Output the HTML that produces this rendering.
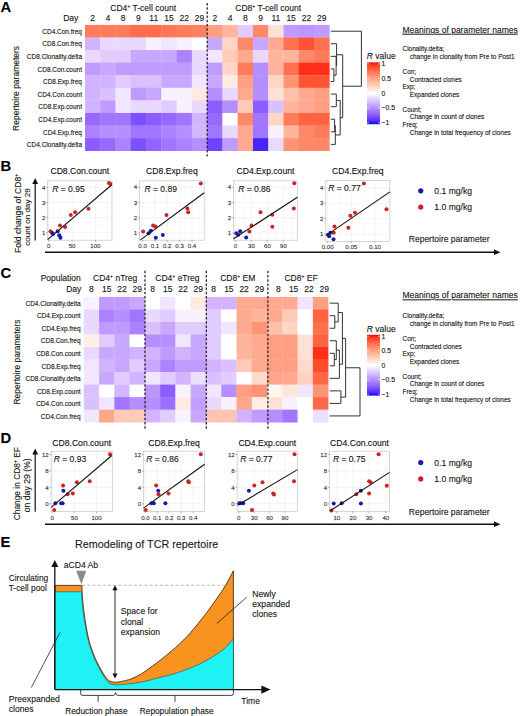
<!DOCTYPE html>
<html><head><meta charset="utf-8"><style>
html,body{margin:0;padding:0;background:#fff;width:520px;height:716px;overflow:hidden}
svg{display:block;font-family:"Liberation Sans",sans-serif}
text{stroke:#000;stroke-opacity:0.45;stroke-width:0.25px}
</style></head><body>
<svg width="520" height="716" viewBox="0 0 520 716" font-family="Liberation Sans, sans-serif">
<rect x="85.00" y="24.90" width="15.57" height="12.88" fill="#ff7c5b"/>
<rect x="100.27" y="24.90" width="15.57" height="12.88" fill="#ff7c5b"/>
<rect x="115.54" y="24.90" width="15.57" height="12.88" fill="#ff7c5b"/>
<rect x="130.81" y="24.90" width="15.57" height="12.88" fill="#ff6d4c"/>
<rect x="146.08" y="24.90" width="15.57" height="12.88" fill="#ff6d4c"/>
<rect x="161.35" y="24.90" width="15.57" height="12.88" fill="#ff7756"/>
<rect x="176.62" y="24.90" width="15.57" height="12.88" fill="#ff7c5b"/>
<rect x="191.89" y="24.90" width="15.57" height="12.88" fill="#ff8160"/>
<rect x="207.16" y="24.90" width="15.57" height="12.88" fill="#ff9f82"/>
<rect x="222.43" y="24.90" width="15.57" height="12.88" fill="#ffb59d"/>
<rect x="237.70" y="24.90" width="15.57" height="12.88" fill="#e1ccff"/>
<rect x="252.97" y="24.90" width="15.57" height="12.88" fill="#ff8868"/>
<rect x="268.24" y="24.90" width="15.57" height="12.88" fill="#ffe0d4"/>
<rect x="283.51" y="24.90" width="15.57" height="12.88" fill="#bf9bff"/>
<rect x="298.78" y="24.90" width="15.57" height="12.88" fill="#bb96ff"/>
<rect x="314.05" y="24.90" width="15.57" height="12.88" fill="#bf9bff"/>
<rect x="85.00" y="37.48" width="15.57" height="12.88" fill="#d1b3ff"/>
<rect x="100.27" y="37.48" width="15.57" height="12.88" fill="#e9d9ff"/>
<rect x="115.54" y="37.48" width="15.57" height="12.88" fill="#e9d9ff"/>
<rect x="130.81" y="37.48" width="15.57" height="12.88" fill="#e9d9ff"/>
<rect x="146.08" y="37.48" width="15.57" height="12.88" fill="#f8f2ff"/>
<rect x="161.35" y="37.48" width="15.57" height="12.88" fill="#f0e6ff"/>
<rect x="176.62" y="37.48" width="15.57" height="12.88" fill="#f8f2ff"/>
<rect x="191.89" y="37.48" width="15.57" height="12.88" fill="#ffffff"/>
<rect x="207.16" y="37.48" width="15.57" height="12.88" fill="#c8a7ff"/>
<rect x="222.43" y="37.48" width="15.57" height="12.88" fill="#ffd5c6"/>
<rect x="237.70" y="37.48" width="15.57" height="12.88" fill="#ff8868"/>
<rect x="252.97" y="37.48" width="15.57" height="12.88" fill="#c8a7ff"/>
<rect x="268.24" y="37.48" width="15.57" height="12.88" fill="#ffaa90"/>
<rect x="283.51" y="37.48" width="15.57" height="12.88" fill="#ff704e"/>
<rect x="298.78" y="37.48" width="15.57" height="12.88" fill="#ff5434"/>
<rect x="314.05" y="37.48" width="15.57" height="12.88" fill="#ff704e"/>
<rect x="85.00" y="50.06" width="15.57" height="12.88" fill="#e9d9ff"/>
<rect x="100.27" y="50.06" width="15.57" height="12.88" fill="#e1ccff"/>
<rect x="115.54" y="50.06" width="15.57" height="12.88" fill="#e1ccff"/>
<rect x="130.81" y="50.06" width="15.57" height="12.88" fill="#c8a7ff"/>
<rect x="146.08" y="50.06" width="15.57" height="12.88" fill="#c8a7ff"/>
<rect x="161.35" y="50.06" width="15.57" height="12.88" fill="#c8a7ff"/>
<rect x="176.62" y="50.06" width="15.57" height="12.88" fill="#ab82ff"/>
<rect x="191.89" y="50.06" width="15.57" height="12.88" fill="#e9d9ff"/>
<rect x="207.16" y="50.06" width="15.57" height="12.88" fill="#f0e6ff"/>
<rect x="222.43" y="50.06" width="15.57" height="12.88" fill="#ffcab8"/>
<rect x="237.70" y="50.06" width="15.57" height="12.88" fill="#ffaa90"/>
<rect x="252.97" y="50.06" width="15.57" height="12.88" fill="#e9d9ff"/>
<rect x="268.24" y="50.06" width="15.57" height="12.88" fill="#ffb59d"/>
<rect x="283.51" y="50.06" width="15.57" height="12.88" fill="#ffb59d"/>
<rect x="298.78" y="50.06" width="15.57" height="12.88" fill="#ff8868"/>
<rect x="314.05" y="50.06" width="15.57" height="12.88" fill="#ff7c5b"/>
<rect x="85.00" y="62.64" width="15.57" height="12.88" fill="#bf9bff"/>
<rect x="100.27" y="62.64" width="15.57" height="12.88" fill="#c8a7ff"/>
<rect x="115.54" y="62.64" width="15.57" height="12.88" fill="#bf9bff"/>
<rect x="130.81" y="62.64" width="15.57" height="12.88" fill="#bf9bff"/>
<rect x="146.08" y="62.64" width="15.57" height="12.88" fill="#bf9bff"/>
<rect x="161.35" y="62.64" width="15.57" height="12.88" fill="#bf9bff"/>
<rect x="176.62" y="62.64" width="15.57" height="12.88" fill="#bf9bff"/>
<rect x="191.89" y="62.64" width="15.57" height="12.88" fill="#e9d9ff"/>
<rect x="207.16" y="62.64" width="15.57" height="12.88" fill="#bf9bff"/>
<rect x="222.43" y="62.64" width="15.57" height="12.88" fill="#ffd5c6"/>
<rect x="237.70" y="62.64" width="15.57" height="12.88" fill="#ff7c5b"/>
<rect x="252.97" y="62.64" width="15.57" height="12.88" fill="#b58eff"/>
<rect x="268.24" y="62.64" width="15.57" height="12.88" fill="#ffb59d"/>
<rect x="283.51" y="62.64" width="15.57" height="12.88" fill="#ff704e"/>
<rect x="298.78" y="62.64" width="15.57" height="12.88" fill="#ff3018"/>
<rect x="314.05" y="62.64" width="15.57" height="12.88" fill="#ff3018"/>
<rect x="85.00" y="75.22" width="15.57" height="12.88" fill="#d1b3ff"/>
<rect x="100.27" y="75.22" width="15.57" height="12.88" fill="#d1b3ff"/>
<rect x="115.54" y="75.22" width="15.57" height="12.88" fill="#e1ccff"/>
<rect x="130.81" y="75.22" width="15.57" height="12.88" fill="#d9c0ff"/>
<rect x="146.08" y="75.22" width="15.57" height="12.88" fill="#d9c0ff"/>
<rect x="161.35" y="75.22" width="15.57" height="12.88" fill="#c8a7ff"/>
<rect x="176.62" y="75.22" width="15.57" height="12.88" fill="#c8a7ff"/>
<rect x="191.89" y="75.22" width="15.57" height="12.88" fill="#f0e6ff"/>
<rect x="207.16" y="75.22" width="15.57" height="12.88" fill="#c8a7ff"/>
<rect x="222.43" y="75.22" width="15.57" height="12.88" fill="#ffeae2"/>
<rect x="237.70" y="75.22" width="15.57" height="12.88" fill="#ff9f82"/>
<rect x="252.97" y="75.22" width="15.57" height="12.88" fill="#b58eff"/>
<rect x="268.24" y="75.22" width="15.57" height="12.88" fill="#ffd5c6"/>
<rect x="283.51" y="75.22" width="15.57" height="12.88" fill="#ff9475"/>
<rect x="298.78" y="75.22" width="15.57" height="12.88" fill="#ff5434"/>
<rect x="314.05" y="75.22" width="15.57" height="12.88" fill="#ff5434"/>
<rect x="85.00" y="87.80" width="15.57" height="12.88" fill="#d1b3ff"/>
<rect x="100.27" y="87.80" width="15.57" height="12.88" fill="#d9c0ff"/>
<rect x="115.54" y="87.80" width="15.57" height="12.88" fill="#f0e6ff"/>
<rect x="130.81" y="87.80" width="15.57" height="12.88" fill="#bf9bff"/>
<rect x="146.08" y="87.80" width="15.57" height="12.88" fill="#c8a7ff"/>
<rect x="161.35" y="87.80" width="15.57" height="12.88" fill="#f8f2ff"/>
<rect x="176.62" y="87.80" width="15.57" height="12.88" fill="#f8f2ff"/>
<rect x="191.89" y="87.80" width="15.57" height="12.88" fill="#ffeae2"/>
<rect x="207.16" y="87.80" width="15.57" height="12.88" fill="#b58eff"/>
<rect x="222.43" y="87.80" width="15.57" height="12.88" fill="#e9d9ff"/>
<rect x="237.70" y="87.80" width="15.57" height="12.88" fill="#ffaa90"/>
<rect x="252.97" y="87.80" width="15.57" height="12.88" fill="#b58eff"/>
<rect x="268.24" y="87.80" width="15.57" height="12.88" fill="#ffe0d4"/>
<rect x="283.51" y="87.80" width="15.57" height="12.88" fill="#ffc0ab"/>
<rect x="298.78" y="87.80" width="15.57" height="12.88" fill="#ffaa90"/>
<rect x="314.05" y="87.80" width="15.57" height="12.88" fill="#ff9f82"/>
<rect x="85.00" y="100.38" width="15.57" height="12.88" fill="#d1b3ff"/>
<rect x="100.27" y="100.38" width="15.57" height="12.88" fill="#bf9bff"/>
<rect x="115.54" y="100.38" width="15.57" height="12.88" fill="#f0e6ff"/>
<rect x="130.81" y="100.38" width="15.57" height="12.88" fill="#e9d9ff"/>
<rect x="146.08" y="100.38" width="15.57" height="12.88" fill="#e9d9ff"/>
<rect x="161.35" y="100.38" width="15.57" height="12.88" fill="#e1ccff"/>
<rect x="176.62" y="100.38" width="15.57" height="12.88" fill="#f8f2ff"/>
<rect x="191.89" y="100.38" width="15.57" height="12.88" fill="#e9d9ff"/>
<rect x="207.16" y="100.38" width="15.57" height="12.88" fill="#8a5dff"/>
<rect x="222.43" y="100.38" width="15.57" height="12.88" fill="#b58eff"/>
<rect x="237.70" y="100.38" width="15.57" height="12.88" fill="#ffcab8"/>
<rect x="252.97" y="100.38" width="15.57" height="12.88" fill="#8a5dff"/>
<rect x="268.24" y="100.38" width="15.57" height="12.88" fill="#d9c0ff"/>
<rect x="283.51" y="100.38" width="15.57" height="12.88" fill="#ffb59d"/>
<rect x="298.78" y="100.38" width="15.57" height="12.88" fill="#ffaa90"/>
<rect x="314.05" y="100.38" width="15.57" height="12.88" fill="#ff9f82"/>
<rect x="85.00" y="112.96" width="15.57" height="12.88" fill="#9669ff"/>
<rect x="100.27" y="112.96" width="15.57" height="12.88" fill="#a176ff"/>
<rect x="115.54" y="112.96" width="15.57" height="12.88" fill="#a176ff"/>
<rect x="130.81" y="112.96" width="15.57" height="12.88" fill="#7d50ff"/>
<rect x="146.08" y="112.96" width="15.57" height="12.88" fill="#8a5dff"/>
<rect x="161.35" y="112.96" width="15.57" height="12.88" fill="#9669ff"/>
<rect x="176.62" y="112.96" width="15.57" height="12.88" fill="#a176ff"/>
<rect x="191.89" y="112.96" width="15.57" height="12.88" fill="#d1b3ff"/>
<rect x="207.16" y="112.96" width="15.57" height="12.88" fill="#9669ff"/>
<rect x="222.43" y="112.96" width="15.57" height="12.88" fill="#ffffff"/>
<rect x="237.70" y="112.96" width="15.57" height="12.88" fill="#ff8868"/>
<rect x="252.97" y="112.96" width="15.57" height="12.88" fill="#a176ff"/>
<rect x="268.24" y="112.96" width="15.57" height="12.88" fill="#ffd5c6"/>
<rect x="283.51" y="112.96" width="15.57" height="12.88" fill="#ff7c5b"/>
<rect x="298.78" y="112.96" width="15.57" height="12.88" fill="#ff6341"/>
<rect x="314.05" y="112.96" width="15.57" height="12.88" fill="#ff6341"/>
<rect x="85.00" y="125.54" width="15.57" height="12.88" fill="#ab82ff"/>
<rect x="100.27" y="125.54" width="15.57" height="12.88" fill="#b58eff"/>
<rect x="115.54" y="125.54" width="15.57" height="12.88" fill="#b58eff"/>
<rect x="130.81" y="125.54" width="15.57" height="12.88" fill="#a176ff"/>
<rect x="146.08" y="125.54" width="15.57" height="12.88" fill="#a176ff"/>
<rect x="161.35" y="125.54" width="15.57" height="12.88" fill="#ab82ff"/>
<rect x="176.62" y="125.54" width="15.57" height="12.88" fill="#b58eff"/>
<rect x="191.89" y="125.54" width="15.57" height="12.88" fill="#d4b8ff"/>
<rect x="207.16" y="125.54" width="15.57" height="12.88" fill="#a176ff"/>
<rect x="222.43" y="125.54" width="15.57" height="12.88" fill="#e9d9ff"/>
<rect x="237.70" y="125.54" width="15.57" height="12.88" fill="#ffaa90"/>
<rect x="252.97" y="125.54" width="15.57" height="12.88" fill="#a176ff"/>
<rect x="268.24" y="125.54" width="15.57" height="12.88" fill="#f8f2ff"/>
<rect x="283.51" y="125.54" width="15.57" height="12.88" fill="#ffb59d"/>
<rect x="298.78" y="125.54" width="15.57" height="12.88" fill="#ff8868"/>
<rect x="314.05" y="125.54" width="15.57" height="12.88" fill="#ff7c5b"/>
<rect x="85.00" y="138.12" width="15.57" height="12.88" fill="#8a5dff"/>
<rect x="100.27" y="138.12" width="15.57" height="12.88" fill="#9669ff"/>
<rect x="115.54" y="138.12" width="15.57" height="12.88" fill="#ab82ff"/>
<rect x="130.81" y="138.12" width="15.57" height="12.88" fill="#7d50ff"/>
<rect x="146.08" y="138.12" width="15.57" height="12.88" fill="#9164ff"/>
<rect x="161.35" y="138.12" width="15.57" height="12.88" fill="#a176ff"/>
<rect x="176.62" y="138.12" width="15.57" height="12.88" fill="#ab82ff"/>
<rect x="191.89" y="138.12" width="15.57" height="12.88" fill="#b58eff"/>
<rect x="207.16" y="138.12" width="15.57" height="12.88" fill="#6e43ff"/>
<rect x="222.43" y="138.12" width="15.57" height="12.88" fill="#bf9bff"/>
<rect x="237.70" y="138.12" width="15.57" height="12.88" fill="#ffaa90"/>
<rect x="252.97" y="138.12" width="15.57" height="12.88" fill="#4825ff"/>
<rect x="268.24" y="138.12" width="15.57" height="12.88" fill="#e9d9ff"/>
<rect x="283.51" y="138.12" width="15.57" height="12.88" fill="#ff9475"/>
<rect x="298.78" y="138.12" width="15.57" height="12.88" fill="#ff8868"/>
<rect x="314.05" y="138.12" width="15.57" height="12.88" fill="#ff8868"/>
<text x="82.0" y="33.89" font-size="6.5" fill="#222" text-anchor="end">CD4.Con.freq</text>
<text x="82.0" y="46.47" font-size="6.5" fill="#222" text-anchor="end">CD8.Con.freq</text>
<text x="82.0" y="59.05" font-size="6.5" fill="#222" text-anchor="end">CD8.Clonality.delta</text>
<text x="82.0" y="71.63" font-size="6.5" fill="#222" text-anchor="end">CD8.Con.count</text>
<text x="82.0" y="84.21" font-size="6.5" fill="#222" text-anchor="end">CD8.Exp.freq</text>
<text x="82.0" y="96.79" font-size="6.5" fill="#222" text-anchor="end">CD4.Con.count</text>
<text x="82.0" y="109.37" font-size="6.5" fill="#222" text-anchor="end">CD8.Exp.count</text>
<text x="82.0" y="121.95" font-size="6.5" fill="#222" text-anchor="end">CD4.Exp.count</text>
<text x="82.0" y="134.53" font-size="6.5" fill="#222" text-anchor="end">CD4.Exp.freq</text>
<text x="82.0" y="147.11" font-size="6.5" fill="#222" text-anchor="end">CD4.Clonality.delta</text>
<rect x="83.80" y="296.90" width="15.57" height="12.83" fill="#f8f2ff"/>
<rect x="99.07" y="296.90" width="15.57" height="12.83" fill="#bf9bff"/>
<rect x="114.34" y="296.90" width="15.57" height="12.83" fill="#bf9bff"/>
<rect x="129.61" y="296.90" width="15.57" height="12.83" fill="#c8a7ff"/>
<rect x="144.88" y="296.90" width="15.57" height="12.83" fill="#ffffff"/>
<rect x="160.15" y="296.90" width="15.57" height="12.83" fill="#f0e6ff"/>
<rect x="175.42" y="296.90" width="15.57" height="12.83" fill="#ffffff"/>
<rect x="190.69" y="296.90" width="15.57" height="12.83" fill="#ffeae2"/>
<rect x="205.96" y="296.90" width="15.57" height="12.83" fill="#d1b3ff"/>
<rect x="221.23" y="296.90" width="15.57" height="12.83" fill="#d1b3ff"/>
<rect x="236.50" y="296.90" width="15.57" height="12.83" fill="#ffaa90"/>
<rect x="251.77" y="296.90" width="15.57" height="12.83" fill="#ffaa90"/>
<rect x="267.04" y="296.90" width="15.57" height="12.83" fill="#ffaa90"/>
<rect x="282.31" y="296.90" width="15.57" height="12.83" fill="#ffaa90"/>
<rect x="297.58" y="296.90" width="15.57" height="12.83" fill="#f0e6ff"/>
<rect x="312.85" y="296.90" width="15.57" height="12.83" fill="#ff9f82"/>
<rect x="83.80" y="309.43" width="15.57" height="12.83" fill="#e9d9ff"/>
<rect x="99.07" y="309.43" width="15.57" height="12.83" fill="#ab82ff"/>
<rect x="114.34" y="309.43" width="15.57" height="12.83" fill="#b58eff"/>
<rect x="129.61" y="309.43" width="15.57" height="12.83" fill="#a176ff"/>
<rect x="144.88" y="309.43" width="15.57" height="12.83" fill="#e9d9ff"/>
<rect x="160.15" y="309.43" width="15.57" height="12.83" fill="#e1ccff"/>
<rect x="175.42" y="309.43" width="15.57" height="12.83" fill="#f8f2ff"/>
<rect x="190.69" y="309.43" width="15.57" height="12.83" fill="#f8f2ff"/>
<rect x="205.96" y="309.43" width="15.57" height="12.83" fill="#e1ccff"/>
<rect x="221.23" y="309.43" width="15.57" height="12.83" fill="#ffffff"/>
<rect x="236.50" y="309.43" width="15.57" height="12.83" fill="#ffaa90"/>
<rect x="251.77" y="309.43" width="15.57" height="12.83" fill="#ffb59d"/>
<rect x="267.04" y="309.43" width="15.57" height="12.83" fill="#ffaa90"/>
<rect x="282.31" y="309.43" width="15.57" height="12.83" fill="#ffcab8"/>
<rect x="297.58" y="309.43" width="15.57" height="12.83" fill="#ffffff"/>
<rect x="312.85" y="309.43" width="15.57" height="12.83" fill="#ff6341"/>
<rect x="83.80" y="321.96" width="15.57" height="12.83" fill="#e9d9ff"/>
<rect x="99.07" y="321.96" width="15.57" height="12.83" fill="#bf9bff"/>
<rect x="114.34" y="321.96" width="15.57" height="12.83" fill="#bf9bff"/>
<rect x="129.61" y="321.96" width="15.57" height="12.83" fill="#ab82ff"/>
<rect x="144.88" y="321.96" width="15.57" height="12.83" fill="#d9c0ff"/>
<rect x="160.15" y="321.96" width="15.57" height="12.83" fill="#c8a7ff"/>
<rect x="175.42" y="321.96" width="15.57" height="12.83" fill="#e1ccff"/>
<rect x="190.69" y="321.96" width="15.57" height="12.83" fill="#e1ccff"/>
<rect x="205.96" y="321.96" width="15.57" height="12.83" fill="#e1ccff"/>
<rect x="221.23" y="321.96" width="15.57" height="12.83" fill="#f0e6ff"/>
<rect x="236.50" y="321.96" width="15.57" height="12.83" fill="#ffaa90"/>
<rect x="251.77" y="321.96" width="15.57" height="12.83" fill="#ff9475"/>
<rect x="267.04" y="321.96" width="15.57" height="12.83" fill="#ffc0ab"/>
<rect x="282.31" y="321.96" width="15.57" height="12.83" fill="#ffd5c6"/>
<rect x="297.58" y="321.96" width="15.57" height="12.83" fill="#ffffff"/>
<rect x="312.85" y="321.96" width="15.57" height="12.83" fill="#ff704e"/>
<rect x="83.80" y="334.49" width="15.57" height="12.83" fill="#ffeee8"/>
<rect x="99.07" y="334.49" width="15.57" height="12.83" fill="#e1ccff"/>
<rect x="114.34" y="334.49" width="15.57" height="12.83" fill="#c8a7ff"/>
<rect x="129.61" y="334.49" width="15.57" height="12.83" fill="#ffffff"/>
<rect x="144.88" y="334.49" width="15.57" height="12.83" fill="#b58eff"/>
<rect x="160.15" y="334.49" width="15.57" height="12.83" fill="#b58eff"/>
<rect x="175.42" y="334.49" width="15.57" height="12.83" fill="#f0e6ff"/>
<rect x="190.69" y="334.49" width="15.57" height="12.83" fill="#c8a7ff"/>
<rect x="205.96" y="334.49" width="15.57" height="12.83" fill="#e1ccff"/>
<rect x="221.23" y="334.49" width="15.57" height="12.83" fill="#ffffff"/>
<rect x="236.50" y="334.49" width="15.57" height="12.83" fill="#ffb59d"/>
<rect x="251.77" y="334.49" width="15.57" height="12.83" fill="#ffaa90"/>
<rect x="267.04" y="334.49" width="15.57" height="12.83" fill="#ff9f82"/>
<rect x="282.31" y="334.49" width="15.57" height="12.83" fill="#ff9f82"/>
<rect x="297.58" y="334.49" width="15.57" height="12.83" fill="#ffe0d4"/>
<rect x="312.85" y="334.49" width="15.57" height="12.83" fill="#ff6341"/>
<rect x="83.80" y="347.02" width="15.57" height="12.83" fill="#e9d9ff"/>
<rect x="99.07" y="347.02" width="15.57" height="12.83" fill="#c8a7ff"/>
<rect x="114.34" y="347.02" width="15.57" height="12.83" fill="#c8a7ff"/>
<rect x="129.61" y="347.02" width="15.57" height="12.83" fill="#d1b3ff"/>
<rect x="144.88" y="347.02" width="15.57" height="12.83" fill="#d1b3ff"/>
<rect x="160.15" y="347.02" width="15.57" height="12.83" fill="#bf9bff"/>
<rect x="175.42" y="347.02" width="15.57" height="12.83" fill="#d1b3ff"/>
<rect x="190.69" y="347.02" width="15.57" height="12.83" fill="#c8a7ff"/>
<rect x="205.96" y="347.02" width="15.57" height="12.83" fill="#e1ccff"/>
<rect x="221.23" y="347.02" width="15.57" height="12.83" fill="#ffffff"/>
<rect x="236.50" y="347.02" width="15.57" height="12.83" fill="#ffb59d"/>
<rect x="251.77" y="347.02" width="15.57" height="12.83" fill="#ffaa90"/>
<rect x="267.04" y="347.02" width="15.57" height="12.83" fill="#ff9f82"/>
<rect x="282.31" y="347.02" width="15.57" height="12.83" fill="#ff9f82"/>
<rect x="297.58" y="347.02" width="15.57" height="12.83" fill="#ffe0d4"/>
<rect x="312.85" y="347.02" width="15.57" height="12.83" fill="#ff3018"/>
<rect x="83.80" y="359.55" width="15.57" height="12.83" fill="#f0e6ff"/>
<rect x="99.07" y="359.55" width="15.57" height="12.83" fill="#d1b3ff"/>
<rect x="114.34" y="359.55" width="15.57" height="12.83" fill="#c8a7ff"/>
<rect x="129.61" y="359.55" width="15.57" height="12.83" fill="#e1ccff"/>
<rect x="144.88" y="359.55" width="15.57" height="12.83" fill="#c8a7ff"/>
<rect x="160.15" y="359.55" width="15.57" height="12.83" fill="#ab82ff"/>
<rect x="175.42" y="359.55" width="15.57" height="12.83" fill="#bf9bff"/>
<rect x="190.69" y="359.55" width="15.57" height="12.83" fill="#bf9bff"/>
<rect x="205.96" y="359.55" width="15.57" height="12.83" fill="#d1b3ff"/>
<rect x="221.23" y="359.55" width="15.57" height="12.83" fill="#d9c0ff"/>
<rect x="236.50" y="359.55" width="15.57" height="12.83" fill="#ffcab8"/>
<rect x="251.77" y="359.55" width="15.57" height="12.83" fill="#ffaa90"/>
<rect x="267.04" y="359.55" width="15.57" height="12.83" fill="#ff9f82"/>
<rect x="282.31" y="359.55" width="15.57" height="12.83" fill="#ff9f82"/>
<rect x="297.58" y="359.55" width="15.57" height="12.83" fill="#ffd9cc"/>
<rect x="312.85" y="359.55" width="15.57" height="12.83" fill="#ff4b2c"/>
<rect x="83.80" y="372.08" width="15.57" height="12.83" fill="#f0e6ff"/>
<rect x="99.07" y="372.08" width="15.57" height="12.83" fill="#c8a7ff"/>
<rect x="114.34" y="372.08" width="15.57" height="12.83" fill="#e1ccff"/>
<rect x="129.61" y="372.08" width="15.57" height="12.83" fill="#d1b3ff"/>
<rect x="144.88" y="372.08" width="15.57" height="12.83" fill="#f0e6ff"/>
<rect x="160.15" y="372.08" width="15.57" height="12.83" fill="#e1ccff"/>
<rect x="175.42" y="372.08" width="15.57" height="12.83" fill="#d1b3ff"/>
<rect x="190.69" y="372.08" width="15.57" height="12.83" fill="#ede0ff"/>
<rect x="205.96" y="372.08" width="15.57" height="12.83" fill="#d9c0ff"/>
<rect x="221.23" y="372.08" width="15.57" height="12.83" fill="#e1ccff"/>
<rect x="236.50" y="372.08" width="15.57" height="12.83" fill="#ffffff"/>
<rect x="251.77" y="372.08" width="15.57" height="12.83" fill="#ffd9cc"/>
<rect x="267.04" y="372.08" width="15.57" height="12.83" fill="#ffa68a"/>
<rect x="282.31" y="372.08" width="15.57" height="12.83" fill="#ffaa90"/>
<rect x="297.58" y="372.08" width="15.57" height="12.83" fill="#ffd1c1"/>
<rect x="312.85" y="372.08" width="15.57" height="12.83" fill="#ff6847"/>
<rect x="83.80" y="384.61" width="15.57" height="12.83" fill="#d9c0ff"/>
<rect x="99.07" y="384.61" width="15.57" height="12.83" fill="#ffffff"/>
<rect x="114.34" y="384.61" width="15.57" height="12.83" fill="#d4b8ff"/>
<rect x="129.61" y="384.61" width="15.57" height="12.83" fill="#ffffff"/>
<rect x="144.88" y="384.61" width="15.57" height="12.83" fill="#bb96ff"/>
<rect x="160.15" y="384.61" width="15.57" height="12.83" fill="#8a5dff"/>
<rect x="175.42" y="384.61" width="15.57" height="12.83" fill="#f8f2ff"/>
<rect x="190.69" y="384.61" width="15.57" height="12.83" fill="#c8a7ff"/>
<rect x="205.96" y="384.61" width="15.57" height="12.83" fill="#f0e6ff"/>
<rect x="221.23" y="384.61" width="15.57" height="12.83" fill="#b58eff"/>
<rect x="236.50" y="384.61" width="15.57" height="12.83" fill="#ff9f82"/>
<rect x="251.77" y="384.61" width="15.57" height="12.83" fill="#ff9475"/>
<rect x="267.04" y="384.61" width="15.57" height="12.83" fill="#fff5f1"/>
<rect x="282.31" y="384.61" width="15.57" height="12.83" fill="#ffe6dd"/>
<rect x="297.58" y="384.61" width="15.57" height="12.83" fill="#f0e6ff"/>
<rect x="312.85" y="384.61" width="15.57" height="12.83" fill="#ff9475"/>
<rect x="83.80" y="397.14" width="15.57" height="12.83" fill="#d9c0ff"/>
<rect x="99.07" y="397.14" width="15.57" height="12.83" fill="#f0e6ff"/>
<rect x="114.34" y="397.14" width="15.57" height="12.83" fill="#a176ff"/>
<rect x="129.61" y="397.14" width="15.57" height="12.83" fill="#b58eff"/>
<rect x="144.88" y="397.14" width="15.57" height="12.83" fill="#b58eff"/>
<rect x="160.15" y="397.14" width="15.57" height="12.83" fill="#9a6eff"/>
<rect x="175.42" y="397.14" width="15.57" height="12.83" fill="#ffeae2"/>
<rect x="190.69" y="397.14" width="15.57" height="12.83" fill="#c3a0ff"/>
<rect x="205.96" y="397.14" width="15.57" height="12.83" fill="#e9d9ff"/>
<rect x="221.23" y="397.14" width="15.57" height="12.83" fill="#f8f2ff"/>
<rect x="236.50" y="397.14" width="15.57" height="12.83" fill="#ffa68a"/>
<rect x="251.77" y="397.14" width="15.57" height="12.83" fill="#ffeee8"/>
<rect x="267.04" y="397.14" width="15.57" height="12.83" fill="#ffe0d4"/>
<rect x="282.31" y="397.14" width="15.57" height="12.83" fill="#f8f2ff"/>
<rect x="297.58" y="397.14" width="15.57" height="12.83" fill="#ffffff"/>
<rect x="312.85" y="397.14" width="15.57" height="12.83" fill="#ff6847"/>
<rect x="83.80" y="409.67" width="15.57" height="12.83" fill="#f0e6ff"/>
<rect x="99.07" y="409.67" width="15.57" height="12.83" fill="#ffa68a"/>
<rect x="114.34" y="409.67" width="15.57" height="12.83" fill="#ffcab8"/>
<rect x="129.61" y="409.67" width="15.57" height="12.83" fill="#ffcab8"/>
<rect x="144.88" y="409.67" width="15.57" height="12.83" fill="#d1b3ff"/>
<rect x="160.15" y="409.67" width="15.57" height="12.83" fill="#e1ccff"/>
<rect x="175.42" y="409.67" width="15.57" height="12.83" fill="#f8f2ff"/>
<rect x="190.69" y="409.67" width="15.57" height="12.83" fill="#c8a7ff"/>
<rect x="205.96" y="409.67" width="15.57" height="12.83" fill="#ffc4b0"/>
<rect x="221.23" y="409.67" width="15.57" height="12.83" fill="#ffc4b0"/>
<rect x="236.50" y="409.67" width="15.57" height="12.83" fill="#d1b3ff"/>
<rect x="251.77" y="409.67" width="15.57" height="12.83" fill="#bf9bff"/>
<rect x="267.04" y="409.67" width="15.57" height="12.83" fill="#b58eff"/>
<rect x="282.31" y="409.67" width="15.57" height="12.83" fill="#a176ff"/>
<rect x="297.58" y="409.67" width="15.57" height="12.83" fill="#ffffff"/>
<rect x="312.85" y="409.67" width="15.57" height="12.83" fill="#ede0ff"/>
<text x="80.6" y="305.86" font-size="6.5" fill="#222" text-anchor="end">CD4.Clonality.delta</text>
<text x="80.6" y="318.39" font-size="6.5" fill="#222" text-anchor="end">CD4.Exp.count</text>
<text x="80.6" y="330.92" font-size="6.5" fill="#222" text-anchor="end">CD4.Exp.freq</text>
<text x="80.6" y="343.45" font-size="6.5" fill="#222" text-anchor="end">CD8.Con.freq</text>
<text x="80.6" y="355.98" font-size="6.5" fill="#222" text-anchor="end">CD8.Con.count</text>
<text x="80.6" y="368.51" font-size="6.5" fill="#222" text-anchor="end">CD8.Exp.freq</text>
<text x="80.6" y="381.04" font-size="6.5" fill="#222" text-anchor="end">CD8.Clonality.delta</text>
<text x="80.6" y="393.57" font-size="6.5" fill="#222" text-anchor="end">CD8.Exp.count</text>
<text x="80.6" y="406.1" font-size="6.5" fill="#222" text-anchor="end">CD4.Con.count</text>
<text x="80.6" y="418.63" font-size="6.5" fill="#222" text-anchor="end">CD4.Con.freq</text>
<text x="143.2" y="10.9" font-size="8.5" fill="#1a1a1a" text-anchor="middle">CD4<tspan font-size="0.6em" dy="-0.5em">+</tspan><tspan dy="0.3em"> </tspan>T-cell count</text>
<text x="268.2" y="10.9" font-size="8.5" fill="#1a1a1a" text-anchor="middle">CD8<tspan font-size="0.6em" dy="-0.5em">+</tspan><tspan dy="0.3em"> </tspan>T-cell count</text>
<text x="78.3" y="21.4" font-size="8.5" fill="#1a1a1a" text-anchor="end">Day</text>
<text x="92.64" y="21.4" font-size="8.5" fill="#1a1a1a" text-anchor="middle">2</text>
<text x="107.91" y="21.4" font-size="8.5" fill="#1a1a1a" text-anchor="middle">4</text>
<text x="123.17" y="21.4" font-size="8.5" fill="#1a1a1a" text-anchor="middle">8</text>
<text x="138.44" y="21.4" font-size="8.5" fill="#1a1a1a" text-anchor="middle">9</text>
<text x="153.72" y="21.4" font-size="8.5" fill="#1a1a1a" text-anchor="middle">11</text>
<text x="168.99" y="21.4" font-size="8.5" fill="#1a1a1a" text-anchor="middle">15</text>
<text x="184.25" y="21.4" font-size="8.5" fill="#1a1a1a" text-anchor="middle">22</text>
<text x="199.52" y="21.4" font-size="8.5" fill="#1a1a1a" text-anchor="middle">29</text>
<text x="214.79" y="21.4" font-size="8.5" fill="#1a1a1a" text-anchor="middle">2</text>
<text x="230.06" y="21.4" font-size="8.5" fill="#1a1a1a" text-anchor="middle">4</text>
<text x="245.34" y="21.4" font-size="8.5" fill="#1a1a1a" text-anchor="middle">8</text>
<text x="260.61" y="21.4" font-size="8.5" fill="#1a1a1a" text-anchor="middle">9</text>
<text x="275.88" y="21.4" font-size="8.5" fill="#1a1a1a" text-anchor="middle">11</text>
<text x="291.14" y="21.4" font-size="8.5" fill="#1a1a1a" text-anchor="middle">15</text>
<text x="306.41" y="21.4" font-size="8.5" fill="#1a1a1a" text-anchor="middle">22</text>
<text x="321.69" y="21.4" font-size="8.5" fill="#1a1a1a" text-anchor="middle">29</text>
<text x="80.8" y="281.3" font-size="8.5" fill="#1a1a1a" text-anchor="end">Population</text>
<text x="81.3" y="291.5" font-size="8.5" fill="#1a1a1a" text-anchor="end">Day</text>
<text x="115.2" y="281.0" font-size="8.5" fill="#1a1a1a" text-anchor="middle">CD4<tspan font-size="0.6em" dy="-0.5em">+</tspan><tspan dy="0.3em"> </tspan>nTreg</text>
<text x="177.4" y="281.0" font-size="8.5" fill="#1a1a1a" text-anchor="middle">CD4<tspan font-size="0.6em" dy="-0.5em">+</tspan><tspan dy="0.3em"> </tspan>eTreg</text>
<text x="237.7" y="281.0" font-size="8.5" fill="#1a1a1a" text-anchor="middle">CD8<tspan font-size="0.6em" dy="-0.5em">+</tspan><tspan dy="0.3em"> </tspan>EM</text>
<text x="301.0" y="281.0" font-size="8.5" fill="#1a1a1a" text-anchor="middle">CD8<tspan font-size="0.6em" dy="-0.5em">+</tspan><tspan dy="0.3em"> </tspan>EF</text>
<text x="91.44" y="291.9" font-size="8.5" fill="#1a1a1a" text-anchor="middle">8</text>
<text x="106.7" y="291.9" font-size="8.5" fill="#1a1a1a" text-anchor="middle">15</text>
<text x="121.97" y="291.9" font-size="8.5" fill="#1a1a1a" text-anchor="middle">22</text>
<text x="137.25" y="291.9" font-size="8.5" fill="#1a1a1a" text-anchor="middle">29</text>
<text x="152.51" y="291.9" font-size="8.5" fill="#1a1a1a" text-anchor="middle">8</text>
<text x="167.78" y="291.9" font-size="8.5" fill="#1a1a1a" text-anchor="middle">15</text>
<text x="183.06" y="291.9" font-size="8.5" fill="#1a1a1a" text-anchor="middle">22</text>
<text x="198.32" y="291.9" font-size="8.5" fill="#1a1a1a" text-anchor="middle">29</text>
<text x="213.59" y="291.9" font-size="8.5" fill="#1a1a1a" text-anchor="middle">8</text>
<text x="228.87" y="291.9" font-size="8.5" fill="#1a1a1a" text-anchor="middle">15</text>
<text x="244.13" y="291.9" font-size="8.5" fill="#1a1a1a" text-anchor="middle">22</text>
<text x="259.4" y="291.9" font-size="8.5" fill="#1a1a1a" text-anchor="middle">29</text>
<text x="278.38" y="291.9" font-size="8.5" fill="#1a1a1a" text-anchor="middle">8</text>
<text x="293.64" y="291.9" font-size="8.5" fill="#1a1a1a" text-anchor="middle">15</text>
<text x="308.91" y="291.9" font-size="8.5" fill="#1a1a1a" text-anchor="middle">22</text>
<text x="324.19" y="291.9" font-size="8.5" fill="#1a1a1a" text-anchor="middle">29</text>
<line x1="207.2" y1="3" x2="207.2" y2="156.5" stroke="#1a1a1a" stroke-width="1.2" stroke-dasharray="2.5,1.7"/>
<line x1="145.0" y1="270.8" x2="145.0" y2="429.3" stroke="#1a1a1a" stroke-width="1.2" stroke-dasharray="2.5,1.7"/>
<line x1="206.3" y1="270.8" x2="206.3" y2="429.3" stroke="#1a1a1a" stroke-width="1.2" stroke-dasharray="2.5,1.7"/>
<line x1="267.9" y1="270.8" x2="267.9" y2="429.3" stroke="#1a1a1a" stroke-width="1.2" stroke-dasharray="2.5,1.7"/>
<text transform="translate(19.4,88.4) rotate(-90)" x="0" y="0" font-size="8.5" text-anchor="middle" fill="#1a1a1a">Repertoire parameters</text>
<text transform="translate(19.6,362) rotate(-90)" x="0" y="0" font-size="8.5" text-anchor="middle" fill="#1a1a1a">Repertoire parameters</text>
<path d="M330.90,68.93H333.90V81.51H330.90 M330.90,56.35H336.10V75.22H333.90 M330.90,43.77H336.60V65.78H336.10 M330.90,94.09H336.30V106.67H330.90 M330.90,119.25H334.60V131.83H330.90 M334.60,125.54H335.30V144.41H330.90 M336.30,100.38H340.20V134.97H335.30 M336.60,54.78H342.70V117.68H340.20 M330.90,31.19H361.40V86.23H342.70" fill="none" stroke="#333" stroke-width="1.0"/>
<path d="M329.70,315.69H334.80V328.22H329.70 M329.70,303.16H338.20V321.96H334.80 M329.70,353.28H334.30V365.81H329.70 M329.70,340.75H336.30V359.55H334.30 M336.30,350.15H339.40V378.34H329.70 M338.20,312.56H342.40V364.25H339.40 M329.70,390.88H340.90V403.40H329.70 M342.40,338.41H345.60V397.14H340.90 M345.60,367.77H360.00V415.93H329.70" fill="none" stroke="#333" stroke-width="1.0"/>
<text x="366.8" y="58.6" font-size="8.5" fill="#1a1a1a"><tspan font-style="italic">R</tspan> value</text>
<defs><linearGradient id="g1" x1="0" y1="0" x2="0" y2="1"><stop offset="0.000" stop-color="#ff0000"/><stop offset="0.050" stop-color="#ff3e22"/><stop offset="0.100" stop-color="#ff5b3a"/><stop offset="0.150" stop-color="#ff7352"/><stop offset="0.200" stop-color="#ff8969"/><stop offset="0.250" stop-color="#ff9e81"/><stop offset="0.300" stop-color="#ffb299"/><stop offset="0.350" stop-color="#ffc6b2"/><stop offset="0.400" stop-color="#ffd9cb"/><stop offset="0.450" stop-color="#ffece5"/><stop offset="0.500" stop-color="#ffffff"/><stop offset="0.550" stop-color="#f2e7ff"/><stop offset="0.600" stop-color="#e3d0ff"/><stop offset="0.650" stop-color="#d4b9ff"/><stop offset="0.700" stop-color="#c4a2ff"/><stop offset="0.750" stop-color="#b38bff"/><stop offset="0.800" stop-color="#a074ff"/><stop offset="0.850" stop-color="#8a5dff"/><stop offset="0.900" stop-color="#7145ff"/><stop offset="0.950" stop-color="#502bff"/><stop offset="1.000" stop-color="#0000ff"/></linearGradient></defs>
<rect x="367" y="62.4" width="13" height="61.8" fill="url(#g1)"/>
<line x1="367" y1="63.9" x2="369" y2="63.9" stroke="#fff" stroke-width="0.6"/>
<line x1="378" y1="63.9" x2="380" y2="63.9" stroke="#fff" stroke-width="0.6"/>
<text x="381.5" y="66.3" font-size="6.8" fill="#222">1</text>
<line x1="367" y1="78.6" x2="369" y2="78.6" stroke="#fff" stroke-width="0.6"/>
<line x1="378" y1="78.6" x2="380" y2="78.6" stroke="#fff" stroke-width="0.6"/>
<text x="381.5" y="81.0" font-size="6.8" fill="#222">0.5</text>
<line x1="367" y1="93.3" x2="369" y2="93.3" stroke="#fff" stroke-width="0.6"/>
<line x1="378" y1="93.3" x2="380" y2="93.3" stroke="#fff" stroke-width="0.6"/>
<text x="381.5" y="95.7" font-size="6.8" fill="#222">0</text>
<line x1="367" y1="108.0" x2="369" y2="108.0" stroke="#fff" stroke-width="0.6"/>
<line x1="378" y1="108.0" x2="380" y2="108.0" stroke="#fff" stroke-width="0.6"/>
<text x="381.5" y="110.4" font-size="6.8" fill="#222">−0.5</text>
<line x1="367" y1="122.69999999999999" x2="369" y2="122.69999999999999" stroke="#fff" stroke-width="0.6"/>
<line x1="378" y1="122.69999999999999" x2="380" y2="122.69999999999999" stroke="#fff" stroke-width="0.6"/>
<text x="381.5" y="125.1" font-size="6.8" fill="#222">−1</text>
<text x="366.8" y="331.7" font-size="8.5" fill="#1a1a1a"><tspan font-style="italic">R</tspan> value</text>
<defs><linearGradient id="g2" x1="0" y1="0" x2="0" y2="1"><stop offset="0.000" stop-color="#ff0000"/><stop offset="0.050" stop-color="#ff3e22"/><stop offset="0.100" stop-color="#ff5b3a"/><stop offset="0.150" stop-color="#ff7352"/><stop offset="0.200" stop-color="#ff8969"/><stop offset="0.250" stop-color="#ff9e81"/><stop offset="0.300" stop-color="#ffb299"/><stop offset="0.350" stop-color="#ffc6b2"/><stop offset="0.400" stop-color="#ffd9cb"/><stop offset="0.450" stop-color="#ffece5"/><stop offset="0.500" stop-color="#ffffff"/><stop offset="0.550" stop-color="#f2e7ff"/><stop offset="0.600" stop-color="#e3d0ff"/><stop offset="0.650" stop-color="#d4b9ff"/><stop offset="0.700" stop-color="#c4a2ff"/><stop offset="0.750" stop-color="#b38bff"/><stop offset="0.800" stop-color="#a074ff"/><stop offset="0.850" stop-color="#8a5dff"/><stop offset="0.900" stop-color="#7145ff"/><stop offset="0.950" stop-color="#502bff"/><stop offset="1.000" stop-color="#0000ff"/></linearGradient></defs>
<rect x="367" y="334.8" width="13" height="60.8" fill="url(#g2)"/>
<line x1="367" y1="336.3" x2="369" y2="336.3" stroke="#fff" stroke-width="0.6"/>
<line x1="378" y1="336.3" x2="380" y2="336.3" stroke="#fff" stroke-width="0.6"/>
<text x="381.5" y="338.7" font-size="6.8" fill="#222">1</text>
<line x1="367" y1="350.75" x2="369" y2="350.75" stroke="#fff" stroke-width="0.6"/>
<line x1="378" y1="350.75" x2="380" y2="350.75" stroke="#fff" stroke-width="0.6"/>
<text x="381.5" y="353.15" font-size="6.8" fill="#222">0.5</text>
<line x1="367" y1="365.20000000000005" x2="369" y2="365.20000000000005" stroke="#fff" stroke-width="0.6"/>
<line x1="378" y1="365.20000000000005" x2="380" y2="365.20000000000005" stroke="#fff" stroke-width="0.6"/>
<text x="381.5" y="367.6" font-size="6.8" fill="#222">0</text>
<line x1="367" y1="379.65000000000003" x2="369" y2="379.65000000000003" stroke="#fff" stroke-width="0.6"/>
<line x1="378" y1="379.65000000000003" x2="380" y2="379.65000000000003" stroke="#fff" stroke-width="0.6"/>
<text x="381.5" y="382.05" font-size="6.8" fill="#222">−0.5</text>
<line x1="367" y1="394.1" x2="369" y2="394.1" stroke="#fff" stroke-width="0.6"/>
<line x1="378" y1="394.1" x2="380" y2="394.1" stroke="#fff" stroke-width="0.6"/>
<text x="381.5" y="396.5" font-size="6.8" fill="#222">−1</text>
<text x="402.5" y="32.8" font-size="8.5" fill="#1a1a1a" text-decoration="underline">Meanings of parameter names</text>
<text x="402.5" y="50.9" font-size="6.45" fill="#222">Clonality.delta;</text>
<text x="409.8" y="58.9" font-size="6.45" fill="#222">change in clonality from Pre to Post1</text>
<text x="402.5" y="74.1" font-size="6.45" fill="#222">Con;</text>
<text x="409.8" y="81.8" font-size="6.45" fill="#222">Contracted clones</text>
<text x="402.5" y="88.9" font-size="6.45" fill="#222">Exp;</text>
<text x="409.8" y="96.6" font-size="6.45" fill="#222">Expanded clones</text>
<text x="402.5" y="112.0" font-size="6.45" fill="#222">Count;</text>
<text x="409.8" y="119.4" font-size="6.45" fill="#222">Change in count of clones</text>
<text x="402.5" y="126.8" font-size="6.45" fill="#222">Freq;</text>
<text x="409.8" y="135.1" font-size="6.45" fill="#222">Change in total frequency of clones</text>
<text x="402.5" y="298.40000000000003" font-size="8.5" fill="#1a1a1a" text-decoration="underline">Meanings of parameter names</text>
<text x="402.5" y="317.9" font-size="6.45" fill="#222">Clonality.delta;</text>
<text x="409.8" y="325.9" font-size="6.45" fill="#222">change in clonality from Pre to Post1</text>
<text x="402.5" y="341.1" font-size="6.45" fill="#222">Con;</text>
<text x="409.8" y="348.8" font-size="6.45" fill="#222">Contracted clones</text>
<text x="402.5" y="355.9" font-size="6.45" fill="#222">Exp;</text>
<text x="409.8" y="363.6" font-size="6.45" fill="#222">Expanded clones</text>
<text x="402.5" y="379.0" font-size="6.45" fill="#222">Count;</text>
<text x="409.8" y="386.4" font-size="6.45" fill="#222">Change in count of clones</text>
<text x="402.5" y="393.8" font-size="6.45" fill="#222">Freq;</text>
<text x="409.8" y="402.1" font-size="6.45" fill="#222">Change in total frequency of clones</text>
<line x1="47.7" y1="194.95" x2="112.0" y2="194.95" stroke="#f3f3f3" stroke-width="0.4"/>
<line x1="47.7" y1="210.05" x2="112.0" y2="210.05" stroke="#f3f3f3" stroke-width="0.4"/>
<line x1="47.7" y1="225.15" x2="112.0" y2="225.15" stroke="#f3f3f3" stroke-width="0.4"/>
<line x1="60.45" y1="180.8" x2="60.45" y2="240.2" stroke="#f3f3f3" stroke-width="0.4"/>
<line x1="83.75" y1="180.8" x2="83.75" y2="240.2" stroke="#f3f3f3" stroke-width="0.4"/>
<line x1="107.05" y1="180.8" x2="107.05" y2="240.2" stroke="#f3f3f3" stroke-width="0.4"/>
<line x1="47.7" y1="187.4" x2="112.0" y2="187.4" stroke="#e8e8e8" stroke-width="0.5"/>
<line x1="47.7" y1="202.5" x2="112.0" y2="202.5" stroke="#e8e8e8" stroke-width="0.5"/>
<line x1="47.7" y1="217.6" x2="112.0" y2="217.6" stroke="#e8e8e8" stroke-width="0.5"/>
<line x1="47.7" y1="232.7" x2="112.0" y2="232.7" stroke="#e8e8e8" stroke-width="0.5"/>
<line x1="48.8" y1="180.8" x2="48.8" y2="240.2" stroke="#e8e8e8" stroke-width="0.5"/>
<line x1="72.1" y1="180.8" x2="72.1" y2="240.2" stroke="#e8e8e8" stroke-width="0.5"/>
<line x1="95.4" y1="180.8" x2="95.4" y2="240.2" stroke="#e8e8e8" stroke-width="0.5"/>
<rect x="47.7" y="180.8" width="64.30" height="59.40" fill="none" stroke="#c4c4c4" stroke-width="0.7"/>
<line x1="46.1" y1="187.4" x2="47.7" y2="187.4" stroke="#666" stroke-width="0.5"/>
<text x="45.3" y="189.5" font-size="6.1" fill="#444" text-anchor="end">4</text>
<line x1="46.1" y1="202.5" x2="47.7" y2="202.5" stroke="#666" stroke-width="0.5"/>
<text x="45.3" y="204.6" font-size="6.1" fill="#444" text-anchor="end">3</text>
<line x1="46.1" y1="217.6" x2="47.7" y2="217.6" stroke="#666" stroke-width="0.5"/>
<text x="45.3" y="219.7" font-size="6.1" fill="#444" text-anchor="end">2</text>
<line x1="46.1" y1="232.7" x2="47.7" y2="232.7" stroke="#666" stroke-width="0.5"/>
<text x="45.3" y="234.8" font-size="6.1" fill="#444" text-anchor="end">1</text>
<line x1="48.8" y1="240.2" x2="48.8" y2="241.79999999999998" stroke="#666" stroke-width="0.5"/>
<text x="48.8" y="248.2" font-size="6.1" fill="#444" text-anchor="middle">0</text>
<line x1="72.1" y1="240.2" x2="72.1" y2="241.79999999999998" stroke="#666" stroke-width="0.5"/>
<text x="72.1" y="248.2" font-size="6.1" fill="#444" text-anchor="middle">50</text>
<line x1="95.4" y1="240.2" x2="95.4" y2="241.79999999999998" stroke="#666" stroke-width="0.5"/>
<text x="95.4" y="248.2" font-size="6.1" fill="#444" text-anchor="middle">100</text>
<circle cx="108.9" cy="183.0" r="2.0" fill="#cc2424"/>
<circle cx="110.4" cy="183.9" r="2.0" fill="#cc2424"/>
<circle cx="88.5" cy="208.8" r="2.0" fill="#cc2424"/>
<circle cx="75.1" cy="212.2" r="2.0" fill="#cc2424"/>
<circle cx="70.8" cy="215.0" r="2.0" fill="#cc2424"/>
<circle cx="60.0" cy="225.5" r="2.0" fill="#cc2424"/>
<circle cx="65.1" cy="227.0" r="2.0" fill="#cc2424"/>
<circle cx="50.5" cy="231.2" r="2.0" fill="#cc2424"/>
<circle cx="57.7" cy="231.2" r="2.0" fill="#1a1aa8"/>
<circle cx="53.1" cy="233.9" r="2.0" fill="#1a1aa8"/>
<circle cx="52.3" cy="233.0" r="2.0" fill="#1a1aa8"/>
<circle cx="59.2" cy="235.3" r="2.0" fill="#1a1aa8"/>
<circle cx="60.5" cy="237.8" r="2.0" fill="#1a1aa8"/>
<line x1="47.7" y1="239.6" x2="111.5" y2="185.0" stroke="#111" stroke-width="1.1"/>
<text x="52.3" y="191.6" font-size="8.5" fill="#1a1a1a"><tspan font-style="italic">R</tspan> = 0.95</text>
<text x="79.85" y="174.4" font-size="8.6" fill="#111" text-anchor="middle">CD8.Con.count</text>
<line x1="139.6" y1="194.95" x2="204.2" y2="194.95" stroke="#f3f3f3" stroke-width="0.4"/>
<line x1="139.6" y1="210.25" x2="204.2" y2="210.25" stroke="#f3f3f3" stroke-width="0.4"/>
<line x1="139.6" y1="225.55" x2="204.2" y2="225.55" stroke="#f3f3f3" stroke-width="0.4"/>
<line x1="148.75" y1="180.8" x2="148.75" y2="240.2" stroke="#f3f3f3" stroke-width="0.4"/>
<line x1="161.05" y1="180.8" x2="161.05" y2="240.2" stroke="#f3f3f3" stroke-width="0.4"/>
<line x1="173.35" y1="180.8" x2="173.35" y2="240.2" stroke="#f3f3f3" stroke-width="0.4"/>
<line x1="185.65" y1="180.8" x2="185.65" y2="240.2" stroke="#f3f3f3" stroke-width="0.4"/>
<line x1="197.95" y1="180.8" x2="197.95" y2="240.2" stroke="#f3f3f3" stroke-width="0.4"/>
<line x1="139.6" y1="187.3" x2="204.2" y2="187.3" stroke="#e8e8e8" stroke-width="0.5"/>
<line x1="139.6" y1="202.6" x2="204.2" y2="202.6" stroke="#e8e8e8" stroke-width="0.5"/>
<line x1="139.6" y1="217.8" x2="204.2" y2="217.8" stroke="#e8e8e8" stroke-width="0.5"/>
<line x1="139.6" y1="233.0" x2="204.2" y2="233.0" stroke="#e8e8e8" stroke-width="0.5"/>
<line x1="142.6" y1="180.8" x2="142.6" y2="240.2" stroke="#e8e8e8" stroke-width="0.5"/>
<line x1="154.9" y1="180.8" x2="154.9" y2="240.2" stroke="#e8e8e8" stroke-width="0.5"/>
<line x1="167.2" y1="180.8" x2="167.2" y2="240.2" stroke="#e8e8e8" stroke-width="0.5"/>
<line x1="179.6" y1="180.8" x2="179.6" y2="240.2" stroke="#e8e8e8" stroke-width="0.5"/>
<line x1="192.0" y1="180.8" x2="192.0" y2="240.2" stroke="#e8e8e8" stroke-width="0.5"/>
<rect x="139.6" y="180.8" width="64.60" height="59.40" fill="none" stroke="#c4c4c4" stroke-width="0.7"/>
<line x1="138.0" y1="187.3" x2="139.6" y2="187.3" stroke="#666" stroke-width="0.5"/>
<text x="137.2" y="189.4" font-size="6.1" fill="#444" text-anchor="end">4</text>
<line x1="138.0" y1="202.6" x2="139.6" y2="202.6" stroke="#666" stroke-width="0.5"/>
<text x="137.2" y="204.7" font-size="6.1" fill="#444" text-anchor="end">3</text>
<line x1="138.0" y1="217.8" x2="139.6" y2="217.8" stroke="#666" stroke-width="0.5"/>
<text x="137.2" y="219.9" font-size="6.1" fill="#444" text-anchor="end">2</text>
<line x1="138.0" y1="233.0" x2="139.6" y2="233.0" stroke="#666" stroke-width="0.5"/>
<text x="137.2" y="235.1" font-size="6.1" fill="#444" text-anchor="end">1</text>
<line x1="142.6" y1="240.2" x2="142.6" y2="241.79999999999998" stroke="#666" stroke-width="0.5"/>
<text x="142.6" y="248.2" font-size="6.1" fill="#444" text-anchor="middle">0.0</text>
<line x1="154.9" y1="240.2" x2="154.9" y2="241.79999999999998" stroke="#666" stroke-width="0.5"/>
<text x="154.9" y="248.2" font-size="6.1" fill="#444" text-anchor="middle">0.1</text>
<line x1="167.2" y1="240.2" x2="167.2" y2="241.79999999999998" stroke="#666" stroke-width="0.5"/>
<text x="167.2" y="248.2" font-size="6.1" fill="#444" text-anchor="middle">0.2</text>
<line x1="179.6" y1="240.2" x2="179.6" y2="241.79999999999998" stroke="#666" stroke-width="0.5"/>
<text x="179.6" y="248.2" font-size="6.1" fill="#444" text-anchor="middle">0.3</text>
<line x1="192.0" y1="240.2" x2="192.0" y2="241.79999999999998" stroke="#666" stroke-width="0.5"/>
<text x="192.0" y="248.2" font-size="6.1" fill="#444" text-anchor="middle">0.4</text>
<circle cx="200.8" cy="183.5" r="2.0" fill="#cc2424"/>
<circle cx="187.4" cy="208.5" r="2.0" fill="#cc2424"/>
<circle cx="188.2" cy="212.2" r="2.0" fill="#cc2424"/>
<circle cx="166.5" cy="215.0" r="2.0" fill="#cc2424"/>
<circle cx="153.1" cy="225.5" r="2.0" fill="#cc2424"/>
<circle cx="155.4" cy="226.5" r="2.0" fill="#cc2424"/>
<circle cx="143.1" cy="231.6" r="2.0" fill="#cc2424"/>
<circle cx="150.8" cy="230.8" r="2.0" fill="#1a1aa8"/>
<circle cx="148.5" cy="233.2" r="2.0" fill="#1a1aa8"/>
<circle cx="162.8" cy="235.0" r="2.0" fill="#1a1aa8"/>
<circle cx="155.8" cy="237.8" r="2.0" fill="#1a1aa8"/>
<line x1="140.5" y1="239.9" x2="204.2" y2="192.7" stroke="#111" stroke-width="1.1"/>
<text x="144.5" y="191.6" font-size="8.5" fill="#1a1a1a"><tspan font-style="italic">R</tspan> = 0.89</text>
<text x="171.9" y="174.4" font-size="8.6" fill="#111" text-anchor="middle">CD8.Exp.freq</text>
<line x1="233.5" y1="194.95" x2="297.4" y2="194.95" stroke="#f3f3f3" stroke-width="0.4"/>
<line x1="233.5" y1="210.25" x2="297.4" y2="210.25" stroke="#f3f3f3" stroke-width="0.4"/>
<line x1="233.5" y1="225.55" x2="297.4" y2="225.55" stroke="#f3f3f3" stroke-width="0.4"/>
<line x1="243.4" y1="180.8" x2="243.4" y2="240.2" stroke="#f3f3f3" stroke-width="0.4"/>
<line x1="259.4" y1="180.8" x2="259.4" y2="240.2" stroke="#f3f3f3" stroke-width="0.4"/>
<line x1="275.4" y1="180.8" x2="275.4" y2="240.2" stroke="#f3f3f3" stroke-width="0.4"/>
<line x1="291.4" y1="180.8" x2="291.4" y2="240.2" stroke="#f3f3f3" stroke-width="0.4"/>
<line x1="233.5" y1="187.3" x2="297.4" y2="187.3" stroke="#e8e8e8" stroke-width="0.5"/>
<line x1="233.5" y1="202.6" x2="297.4" y2="202.6" stroke="#e8e8e8" stroke-width="0.5"/>
<line x1="233.5" y1="217.8" x2="297.4" y2="217.8" stroke="#e8e8e8" stroke-width="0.5"/>
<line x1="233.5" y1="233.0" x2="297.4" y2="233.0" stroke="#e8e8e8" stroke-width="0.5"/>
<line x1="235.4" y1="180.8" x2="235.4" y2="240.2" stroke="#e8e8e8" stroke-width="0.5"/>
<line x1="251.4" y1="180.8" x2="251.4" y2="240.2" stroke="#e8e8e8" stroke-width="0.5"/>
<line x1="267.4" y1="180.8" x2="267.4" y2="240.2" stroke="#e8e8e8" stroke-width="0.5"/>
<line x1="283.4" y1="180.8" x2="283.4" y2="240.2" stroke="#e8e8e8" stroke-width="0.5"/>
<rect x="233.5" y="180.8" width="63.90" height="59.40" fill="none" stroke="#c4c4c4" stroke-width="0.7"/>
<line x1="231.9" y1="187.3" x2="233.5" y2="187.3" stroke="#666" stroke-width="0.5"/>
<text x="231.1" y="189.4" font-size="6.1" fill="#444" text-anchor="end">4</text>
<line x1="231.9" y1="202.6" x2="233.5" y2="202.6" stroke="#666" stroke-width="0.5"/>
<text x="231.1" y="204.7" font-size="6.1" fill="#444" text-anchor="end">3</text>
<line x1="231.9" y1="217.8" x2="233.5" y2="217.8" stroke="#666" stroke-width="0.5"/>
<text x="231.1" y="219.9" font-size="6.1" fill="#444" text-anchor="end">2</text>
<line x1="231.9" y1="233.0" x2="233.5" y2="233.0" stroke="#666" stroke-width="0.5"/>
<text x="231.1" y="235.1" font-size="6.1" fill="#444" text-anchor="end">1</text>
<line x1="235.4" y1="240.2" x2="235.4" y2="241.79999999999998" stroke="#666" stroke-width="0.5"/>
<text x="235.4" y="248.2" font-size="6.1" fill="#444" text-anchor="middle">0</text>
<line x1="251.4" y1="240.2" x2="251.4" y2="241.79999999999998" stroke="#666" stroke-width="0.5"/>
<text x="251.4" y="248.2" font-size="6.1" fill="#444" text-anchor="middle">30</text>
<line x1="267.4" y1="240.2" x2="267.4" y2="241.79999999999998" stroke="#666" stroke-width="0.5"/>
<text x="267.4" y="248.2" font-size="6.1" fill="#444" text-anchor="middle">60</text>
<line x1="283.4" y1="240.2" x2="283.4" y2="241.79999999999998" stroke="#666" stroke-width="0.5"/>
<text x="283.4" y="248.2" font-size="6.1" fill="#444" text-anchor="middle">90</text>
<circle cx="294.3" cy="183.2" r="2.0" fill="#cc2424"/>
<circle cx="293.8" cy="208.5" r="2.0" fill="#cc2424"/>
<circle cx="260.5" cy="212.2" r="2.0" fill="#cc2424"/>
<circle cx="272.3" cy="214.7" r="2.0" fill="#cc2424"/>
<circle cx="251.5" cy="225.5" r="2.0" fill="#cc2424"/>
<circle cx="272.3" cy="226.8" r="2.0" fill="#cc2424"/>
<circle cx="249.4" cy="231.6" r="2.0" fill="#cc2424"/>
<circle cx="240.2" cy="231.2" r="2.0" fill="#1a1aa8"/>
<circle cx="236.3" cy="233.2" r="2.0" fill="#1a1aa8"/>
<circle cx="238.2" cy="234.7" r="2.0" fill="#1a1aa8"/>
<circle cx="246.2" cy="237.6" r="2.0" fill="#1a1aa8"/>
<line x1="233.5" y1="238.8" x2="297.4" y2="197.3" stroke="#111" stroke-width="1.1"/>
<text x="238.2" y="191.6" font-size="8.5" fill="#1a1a1a"><tspan font-style="italic">R</tspan> = 0.86</text>
<text x="265.45" y="174.4" font-size="8.6" fill="#111" text-anchor="middle">CD4.Exp.count</text>
<line x1="325.8" y1="195.5" x2="389.9" y2="195.5" stroke="#f3f3f3" stroke-width="0.4"/>
<line x1="325.8" y1="210.9" x2="389.9" y2="210.9" stroke="#f3f3f3" stroke-width="0.4"/>
<line x1="325.8" y1="226.3" x2="389.9" y2="226.3" stroke="#f3f3f3" stroke-width="0.4"/>
<line x1="339.45" y1="180.5" x2="339.45" y2="241.5" stroke="#f3f3f3" stroke-width="0.4"/>
<line x1="363.15" y1="180.5" x2="363.15" y2="241.5" stroke="#f3f3f3" stroke-width="0.4"/>
<line x1="386.85" y1="180.5" x2="386.85" y2="241.5" stroke="#f3f3f3" stroke-width="0.4"/>
<line x1="325.8" y1="187.8" x2="389.9" y2="187.8" stroke="#e8e8e8" stroke-width="0.5"/>
<line x1="325.8" y1="203.2" x2="389.9" y2="203.2" stroke="#e8e8e8" stroke-width="0.5"/>
<line x1="325.8" y1="218.6" x2="389.9" y2="218.6" stroke="#e8e8e8" stroke-width="0.5"/>
<line x1="325.8" y1="234.1" x2="389.9" y2="234.1" stroke="#e8e8e8" stroke-width="0.5"/>
<line x1="327.6" y1="180.5" x2="327.6" y2="241.5" stroke="#e8e8e8" stroke-width="0.5"/>
<line x1="351.3" y1="180.5" x2="351.3" y2="241.5" stroke="#e8e8e8" stroke-width="0.5"/>
<line x1="375.0" y1="180.5" x2="375.0" y2="241.5" stroke="#e8e8e8" stroke-width="0.5"/>
<rect x="325.8" y="180.5" width="64.10" height="61.00" fill="none" stroke="#c4c4c4" stroke-width="0.7"/>
<line x1="324.2" y1="187.8" x2="325.8" y2="187.8" stroke="#666" stroke-width="0.5"/>
<text x="323.4" y="189.9" font-size="6.1" fill="#444" text-anchor="end">4</text>
<line x1="324.2" y1="203.2" x2="325.8" y2="203.2" stroke="#666" stroke-width="0.5"/>
<text x="323.4" y="205.3" font-size="6.1" fill="#444" text-anchor="end">3</text>
<line x1="324.2" y1="218.6" x2="325.8" y2="218.6" stroke="#666" stroke-width="0.5"/>
<text x="323.4" y="220.7" font-size="6.1" fill="#444" text-anchor="end">2</text>
<line x1="324.2" y1="234.1" x2="325.8" y2="234.1" stroke="#666" stroke-width="0.5"/>
<text x="323.4" y="236.2" font-size="6.1" fill="#444" text-anchor="end">1</text>
<line x1="327.6" y1="241.5" x2="327.6" y2="243.1" stroke="#666" stroke-width="0.5"/>
<text x="327.6" y="249.4" font-size="6.1" fill="#444" text-anchor="middle">0.00</text>
<line x1="351.3" y1="241.5" x2="351.3" y2="243.1" stroke="#666" stroke-width="0.5"/>
<text x="351.3" y="249.4" font-size="6.1" fill="#444" text-anchor="middle">0.05</text>
<line x1="375.0" y1="241.5" x2="375.0" y2="243.1" stroke="#666" stroke-width="0.5"/>
<text x="375.0" y="249.4" font-size="6.1" fill="#444" text-anchor="middle">0.10</text>
<circle cx="363.9" cy="183.5" r="2.0" fill="#cc2424"/>
<circle cx="386.5" cy="209.2" r="2.0" fill="#cc2424"/>
<circle cx="355.0" cy="212.7" r="2.0" fill="#cc2424"/>
<circle cx="350.4" cy="215.8" r="2.0" fill="#cc2424"/>
<circle cx="334.5" cy="226.5" r="2.0" fill="#cc2424"/>
<circle cx="348.4" cy="227.8" r="2.0" fill="#cc2424"/>
<circle cx="333.8" cy="232.7" r="2.0" fill="#cc2424"/>
<circle cx="330.4" cy="232.7" r="2.0" fill="#1a1aa8"/>
<circle cx="328.1" cy="234.7" r="2.0" fill="#1a1aa8"/>
<circle cx="329.2" cy="236.2" r="2.0" fill="#1a1aa8"/>
<circle cx="333.5" cy="239.2" r="2.0" fill="#1a1aa8"/>
<line x1="326.3" y1="235.4" x2="389.9" y2="191.9" stroke="#111" stroke-width="1.1"/>
<text x="328.3" y="191.3" font-size="8.5" fill="#1a1a1a"><tspan font-style="italic">R</tspan> = 0.77</text>
<text x="357.85" y="174.4" font-size="8.6" fill="#111" text-anchor="middle">CD4.Exp.freq</text>
<line x1="51.1" y1="462.8" x2="112.3" y2="462.8" stroke="#f3f3f3" stroke-width="0.4"/>
<line x1="51.1" y1="479.2" x2="112.3" y2="479.2" stroke="#f3f3f3" stroke-width="0.4"/>
<line x1="51.1" y1="495.6" x2="112.3" y2="495.6" stroke="#f3f3f3" stroke-width="0.4"/>
<line x1="63.35" y1="451.2" x2="63.35" y2="511.6" stroke="#f3f3f3" stroke-width="0.4"/>
<line x1="85.45" y1="451.2" x2="85.45" y2="511.6" stroke="#f3f3f3" stroke-width="0.4"/>
<line x1="107.55" y1="451.2" x2="107.55" y2="511.6" stroke="#f3f3f3" stroke-width="0.4"/>
<line x1="51.1" y1="454.6" x2="112.3" y2="454.6" stroke="#e8e8e8" stroke-width="0.5"/>
<line x1="51.1" y1="471.0" x2="112.3" y2="471.0" stroke="#e8e8e8" stroke-width="0.5"/>
<line x1="51.1" y1="487.4" x2="112.3" y2="487.4" stroke="#e8e8e8" stroke-width="0.5"/>
<line x1="51.1" y1="503.8" x2="112.3" y2="503.8" stroke="#e8e8e8" stroke-width="0.5"/>
<line x1="52.3" y1="451.2" x2="52.3" y2="511.6" stroke="#e8e8e8" stroke-width="0.5"/>
<line x1="74.4" y1="451.2" x2="74.4" y2="511.6" stroke="#e8e8e8" stroke-width="0.5"/>
<line x1="96.5" y1="451.2" x2="96.5" y2="511.6" stroke="#e8e8e8" stroke-width="0.5"/>
<rect x="51.1" y="451.2" width="61.20" height="60.40" fill="none" stroke="#c4c4c4" stroke-width="0.7"/>
<line x1="49.5" y1="454.6" x2="51.1" y2="454.6" stroke="#666" stroke-width="0.5"/>
<text x="48.7" y="456.7" font-size="6.1" fill="#444" text-anchor="end">12</text>
<line x1="49.5" y1="471.0" x2="51.1" y2="471.0" stroke="#666" stroke-width="0.5"/>
<text x="48.7" y="473.1" font-size="6.1" fill="#444" text-anchor="end">8</text>
<line x1="49.5" y1="487.4" x2="51.1" y2="487.4" stroke="#666" stroke-width="0.5"/>
<text x="48.7" y="489.5" font-size="6.1" fill="#444" text-anchor="end">4</text>
<line x1="49.5" y1="503.8" x2="51.1" y2="503.8" stroke="#666" stroke-width="0.5"/>
<text x="48.7" y="505.9" font-size="6.1" fill="#444" text-anchor="end">0</text>
<line x1="52.3" y1="511.6" x2="52.3" y2="513.2" stroke="#666" stroke-width="0.5"/>
<text x="52.3" y="520.3" font-size="6.1" fill="#444" text-anchor="middle">0</text>
<line x1="74.4" y1="511.6" x2="74.4" y2="513.2" stroke="#666" stroke-width="0.5"/>
<text x="74.4" y="520.3" font-size="6.1" fill="#444" text-anchor="middle">50</text>
<line x1="96.5" y1="511.6" x2="96.5" y2="513.2" stroke="#666" stroke-width="0.5"/>
<text x="96.5" y="520.3" font-size="6.1" fill="#444" text-anchor="middle">100</text>
<circle cx="110.0" cy="454.2" r="2.0" fill="#cc2424"/>
<circle cx="89.7" cy="481.2" r="2.0" fill="#cc2424"/>
<circle cx="76.9" cy="482.2" r="2.0" fill="#cc2424"/>
<circle cx="63.1" cy="485.5" r="2.0" fill="#cc2424"/>
<circle cx="72.8" cy="493.5" r="2.0" fill="#cc2424"/>
<circle cx="67.7" cy="494.2" r="2.0" fill="#cc2424"/>
<circle cx="54.2" cy="510.1" r="2.0" fill="#cc2424"/>
<circle cx="63.4" cy="490.7" r="2.0" fill="#1a1aa8"/>
<circle cx="55.4" cy="503.2" r="2.0" fill="#1a1aa8"/>
<circle cx="61.1" cy="503.2" r="2.0" fill="#1a1aa8"/>
<circle cx="62.6" cy="503.2" r="2.0" fill="#1a1aa8"/>
<line x1="51.1" y1="507.3" x2="111.8" y2="455.5" stroke="#111" stroke-width="1.1"/>
<text x="53.8" y="461.6" font-size="8.5" fill="#1a1a1a"><tspan font-style="italic">R</tspan> = 0.93</text>
<text x="81.7" y="445.9" font-size="8.6" fill="#111" text-anchor="middle">CD8.Con.count</text>
<line x1="143.5" y1="462.8" x2="204.6" y2="462.8" stroke="#f3f3f3" stroke-width="0.4"/>
<line x1="143.5" y1="479.2" x2="204.6" y2="479.2" stroke="#f3f3f3" stroke-width="0.4"/>
<line x1="143.5" y1="495.6" x2="204.6" y2="495.6" stroke="#f3f3f3" stroke-width="0.4"/>
<line x1="151.3" y1="451.2" x2="151.3" y2="511.6" stroke="#f3f3f3" stroke-width="0.4"/>
<line x1="163.1" y1="451.2" x2="163.1" y2="511.6" stroke="#f3f3f3" stroke-width="0.4"/>
<line x1="174.9" y1="451.2" x2="174.9" y2="511.6" stroke="#f3f3f3" stroke-width="0.4"/>
<line x1="186.7" y1="451.2" x2="186.7" y2="511.6" stroke="#f3f3f3" stroke-width="0.4"/>
<line x1="198.5" y1="451.2" x2="198.5" y2="511.6" stroke="#f3f3f3" stroke-width="0.4"/>
<line x1="143.5" y1="454.6" x2="204.6" y2="454.6" stroke="#e8e8e8" stroke-width="0.5"/>
<line x1="143.5" y1="471.0" x2="204.6" y2="471.0" stroke="#e8e8e8" stroke-width="0.5"/>
<line x1="143.5" y1="487.4" x2="204.6" y2="487.4" stroke="#e8e8e8" stroke-width="0.5"/>
<line x1="143.5" y1="503.8" x2="204.6" y2="503.8" stroke="#e8e8e8" stroke-width="0.5"/>
<line x1="145.4" y1="451.2" x2="145.4" y2="511.6" stroke="#e8e8e8" stroke-width="0.5"/>
<line x1="157.2" y1="451.2" x2="157.2" y2="511.6" stroke="#e8e8e8" stroke-width="0.5"/>
<line x1="169.2" y1="451.2" x2="169.2" y2="511.6" stroke="#e8e8e8" stroke-width="0.5"/>
<line x1="181.2" y1="451.2" x2="181.2" y2="511.6" stroke="#e8e8e8" stroke-width="0.5"/>
<line x1="193.2" y1="451.2" x2="193.2" y2="511.6" stroke="#e8e8e8" stroke-width="0.5"/>
<rect x="143.5" y="451.2" width="61.10" height="60.40" fill="none" stroke="#c4c4c4" stroke-width="0.7"/>
<line x1="141.9" y1="454.6" x2="143.5" y2="454.6" stroke="#666" stroke-width="0.5"/>
<text x="141.1" y="456.7" font-size="6.1" fill="#444" text-anchor="end">12</text>
<line x1="141.9" y1="471.0" x2="143.5" y2="471.0" stroke="#666" stroke-width="0.5"/>
<text x="141.1" y="473.1" font-size="6.1" fill="#444" text-anchor="end">8</text>
<line x1="141.9" y1="487.4" x2="143.5" y2="487.4" stroke="#666" stroke-width="0.5"/>
<text x="141.1" y="489.5" font-size="6.1" fill="#444" text-anchor="end">4</text>
<line x1="141.9" y1="503.8" x2="143.5" y2="503.8" stroke="#666" stroke-width="0.5"/>
<text x="141.1" y="505.9" font-size="6.1" fill="#444" text-anchor="end">0</text>
<line x1="145.4" y1="511.6" x2="145.4" y2="513.2" stroke="#666" stroke-width="0.5"/>
<text x="145.4" y="520.3" font-size="6.1" fill="#444" text-anchor="middle">0.0</text>
<line x1="157.2" y1="511.6" x2="157.2" y2="513.2" stroke="#666" stroke-width="0.5"/>
<text x="157.2" y="520.3" font-size="6.1" fill="#444" text-anchor="middle">0.1</text>
<line x1="169.2" y1="511.6" x2="169.2" y2="513.2" stroke="#666" stroke-width="0.5"/>
<text x="169.2" y="520.3" font-size="6.1" fill="#444" text-anchor="middle">0.2</text>
<line x1="181.2" y1="511.6" x2="181.2" y2="513.2" stroke="#666" stroke-width="0.5"/>
<text x="181.2" y="520.3" font-size="6.1" fill="#444" text-anchor="middle">0.3</text>
<line x1="193.2" y1="511.6" x2="193.2" y2="513.2" stroke="#666" stroke-width="0.5"/>
<text x="193.2" y="520.3" font-size="6.1" fill="#444" text-anchor="middle">0.4</text>
<circle cx="200.8" cy="454.2" r="2.0" fill="#cc2424"/>
<circle cx="188.2" cy="481.2" r="2.0" fill="#cc2424"/>
<circle cx="188.9" cy="482.2" r="2.0" fill="#cc2424"/>
<circle cx="156.2" cy="485.5" r="2.0" fill="#cc2424"/>
<circle cx="158.5" cy="494.2" r="2.0" fill="#cc2424"/>
<circle cx="168.5" cy="493.5" r="2.0" fill="#cc2424"/>
<circle cx="145.8" cy="510.1" r="2.0" fill="#cc2424"/>
<circle cx="158.2" cy="490.7" r="2.0" fill="#1a1aa8"/>
<circle cx="151.5" cy="503.2" r="2.0" fill="#1a1aa8"/>
<circle cx="153.8" cy="503.2" r="2.0" fill="#1a1aa8"/>
<circle cx="165.4" cy="503.2" r="2.0" fill="#1a1aa8"/>
<line x1="143.5" y1="508.1" x2="204.6" y2="464.2" stroke="#111" stroke-width="1.1"/>
<text x="146.3" y="461.6" font-size="8.5" fill="#1a1a1a"><tspan font-style="italic">R</tspan> = 0.86</text>
<text x="174.05" y="445.9" font-size="8.6" fill="#111" text-anchor="middle">CD8.Exp.freq</text>
<line x1="237.1" y1="462.8" x2="297.5" y2="462.8" stroke="#f3f3f3" stroke-width="0.4"/>
<line x1="237.1" y1="479.2" x2="297.5" y2="479.2" stroke="#f3f3f3" stroke-width="0.4"/>
<line x1="237.1" y1="495.6" x2="297.5" y2="495.6" stroke="#f3f3f3" stroke-width="0.4"/>
<line x1="246.45" y1="451.2" x2="246.45" y2="511.6" stroke="#f3f3f3" stroke-width="0.4"/>
<line x1="261.95" y1="451.2" x2="261.95" y2="511.6" stroke="#f3f3f3" stroke-width="0.4"/>
<line x1="277.45" y1="451.2" x2="277.45" y2="511.6" stroke="#f3f3f3" stroke-width="0.4"/>
<line x1="292.95" y1="451.2" x2="292.95" y2="511.6" stroke="#f3f3f3" stroke-width="0.4"/>
<line x1="237.1" y1="454.6" x2="297.5" y2="454.6" stroke="#e8e8e8" stroke-width="0.5"/>
<line x1="237.1" y1="471.0" x2="297.5" y2="471.0" stroke="#e8e8e8" stroke-width="0.5"/>
<line x1="237.1" y1="487.4" x2="297.5" y2="487.4" stroke="#e8e8e8" stroke-width="0.5"/>
<line x1="237.1" y1="503.8" x2="297.5" y2="503.8" stroke="#e8e8e8" stroke-width="0.5"/>
<line x1="238.7" y1="451.2" x2="238.7" y2="511.6" stroke="#e8e8e8" stroke-width="0.5"/>
<line x1="254.2" y1="451.2" x2="254.2" y2="511.6" stroke="#e8e8e8" stroke-width="0.5"/>
<line x1="269.6" y1="451.2" x2="269.6" y2="511.6" stroke="#e8e8e8" stroke-width="0.5"/>
<line x1="285.0" y1="451.2" x2="285.0" y2="511.6" stroke="#e8e8e8" stroke-width="0.5"/>
<rect x="237.1" y="451.2" width="60.40" height="60.40" fill="none" stroke="#c4c4c4" stroke-width="0.7"/>
<line x1="235.5" y1="454.6" x2="237.1" y2="454.6" stroke="#666" stroke-width="0.5"/>
<text x="234.7" y="456.7" font-size="6.1" fill="#444" text-anchor="end">12</text>
<line x1="235.5" y1="471.0" x2="237.1" y2="471.0" stroke="#666" stroke-width="0.5"/>
<text x="234.7" y="473.1" font-size="6.1" fill="#444" text-anchor="end">8</text>
<line x1="235.5" y1="487.4" x2="237.1" y2="487.4" stroke="#666" stroke-width="0.5"/>
<text x="234.7" y="489.5" font-size="6.1" fill="#444" text-anchor="end">4</text>
<line x1="235.5" y1="503.8" x2="237.1" y2="503.8" stroke="#666" stroke-width="0.5"/>
<text x="234.7" y="505.9" font-size="6.1" fill="#444" text-anchor="end">0</text>
<line x1="238.7" y1="511.6" x2="238.7" y2="513.2" stroke="#666" stroke-width="0.5"/>
<text x="238.7" y="520.3" font-size="6.1" fill="#444" text-anchor="middle">0</text>
<line x1="254.2" y1="511.6" x2="254.2" y2="513.2" stroke="#666" stroke-width="0.5"/>
<text x="254.2" y="520.3" font-size="6.1" fill="#444" text-anchor="middle">30</text>
<line x1="269.6" y1="511.6" x2="269.6" y2="513.2" stroke="#666" stroke-width="0.5"/>
<text x="269.6" y="520.3" font-size="6.1" fill="#444" text-anchor="middle">60</text>
<line x1="285.0" y1="511.6" x2="285.0" y2="513.2" stroke="#666" stroke-width="0.5"/>
<text x="285.0" y="520.3" font-size="6.1" fill="#444" text-anchor="middle">90</text>
<circle cx="294.5" cy="454.2" r="2.0" fill="#cc2424"/>
<circle cx="294.0" cy="481.2" r="2.0" fill="#cc2424"/>
<circle cx="262.5" cy="482.2" r="2.0" fill="#cc2424"/>
<circle cx="254.3" cy="485.5" r="2.0" fill="#cc2424"/>
<circle cx="273.2" cy="493.5" r="2.0" fill="#cc2424"/>
<circle cx="274.0" cy="494.4" r="2.0" fill="#cc2424"/>
<circle cx="252.0" cy="509.9" r="2.0" fill="#cc2424"/>
<circle cx="248.9" cy="490.7" r="2.0" fill="#1a1aa8"/>
<circle cx="239.4" cy="503.2" r="2.0" fill="#1a1aa8"/>
<circle cx="240.9" cy="503.2" r="2.0" fill="#1a1aa8"/>
<circle cx="243.2" cy="503.2" r="2.0" fill="#1a1aa8"/>
<line x1="237.5" y1="505.3" x2="297.5" y2="469.6" stroke="#111" stroke-width="1.1"/>
<text x="240.2" y="461.6" font-size="8.5" fill="#1a1a1a"><tspan font-style="italic">R</tspan> = 0.77</text>
<text x="267.3" y="445.9" font-size="8.6" fill="#111" text-anchor="middle">CD4.Exp.count</text>
<line x1="329.5" y1="462.8" x2="389.5" y2="462.8" stroke="#f3f3f3" stroke-width="0.4"/>
<line x1="329.5" y1="479.2" x2="389.5" y2="479.2" stroke="#f3f3f3" stroke-width="0.4"/>
<line x1="329.5" y1="495.6" x2="389.5" y2="495.6" stroke="#f3f3f3" stroke-width="0.4"/>
<line x1="344.85" y1="451.2" x2="344.85" y2="511.6" stroke="#f3f3f3" stroke-width="0.4"/>
<line x1="360.95" y1="451.2" x2="360.95" y2="511.6" stroke="#f3f3f3" stroke-width="0.4"/>
<line x1="377.05" y1="451.2" x2="377.05" y2="511.6" stroke="#f3f3f3" stroke-width="0.4"/>
<line x1="329.5" y1="454.6" x2="389.5" y2="454.6" stroke="#e8e8e8" stroke-width="0.5"/>
<line x1="329.5" y1="471.0" x2="389.5" y2="471.0" stroke="#e8e8e8" stroke-width="0.5"/>
<line x1="329.5" y1="487.4" x2="389.5" y2="487.4" stroke="#e8e8e8" stroke-width="0.5"/>
<line x1="329.5" y1="503.8" x2="389.5" y2="503.8" stroke="#e8e8e8" stroke-width="0.5"/>
<line x1="336.8" y1="451.2" x2="336.8" y2="511.6" stroke="#e8e8e8" stroke-width="0.5"/>
<line x1="352.9" y1="451.2" x2="352.9" y2="511.6" stroke="#e8e8e8" stroke-width="0.5"/>
<line x1="369.1" y1="451.2" x2="369.1" y2="511.6" stroke="#e8e8e8" stroke-width="0.5"/>
<line x1="385.8" y1="451.2" x2="385.8" y2="511.6" stroke="#e8e8e8" stroke-width="0.5"/>
<rect x="329.5" y="451.2" width="60.00" height="60.40" fill="none" stroke="#c4c4c4" stroke-width="0.7"/>
<line x1="327.9" y1="454.6" x2="329.5" y2="454.6" stroke="#666" stroke-width="0.5"/>
<text x="327.1" y="456.7" font-size="6.1" fill="#444" text-anchor="end">12</text>
<line x1="327.9" y1="471.0" x2="329.5" y2="471.0" stroke="#666" stroke-width="0.5"/>
<text x="327.1" y="473.1" font-size="6.1" fill="#444" text-anchor="end">8</text>
<line x1="327.9" y1="487.4" x2="329.5" y2="487.4" stroke="#666" stroke-width="0.5"/>
<text x="327.1" y="489.5" font-size="6.1" fill="#444" text-anchor="end">4</text>
<line x1="327.9" y1="503.8" x2="329.5" y2="503.8" stroke="#666" stroke-width="0.5"/>
<text x="327.1" y="505.9" font-size="6.1" fill="#444" text-anchor="end">0</text>
<line x1="336.8" y1="511.6" x2="336.8" y2="513.2" stroke="#666" stroke-width="0.5"/>
<text x="336.8" y="520.3" font-size="6.1" fill="#444" text-anchor="middle">10</text>
<line x1="352.9" y1="511.6" x2="352.9" y2="513.2" stroke="#666" stroke-width="0.5"/>
<text x="352.9" y="520.3" font-size="6.1" fill="#444" text-anchor="middle">20</text>
<line x1="369.1" y1="511.6" x2="369.1" y2="513.2" stroke="#666" stroke-width="0.5"/>
<text x="369.1" y="520.3" font-size="6.1" fill="#444" text-anchor="middle">30</text>
<line x1="385.8" y1="511.6" x2="385.8" y2="513.2" stroke="#666" stroke-width="0.5"/>
<text x="385.8" y="520.3" font-size="6.1" fill="#444" text-anchor="middle">40</text>
<circle cx="378.6" cy="454.2" r="2.0" fill="#cc2424"/>
<circle cx="369.1" cy="481.2" r="2.0" fill="#cc2424"/>
<circle cx="370.6" cy="482.2" r="2.0" fill="#cc2424"/>
<circle cx="386.8" cy="485.8" r="2.0" fill="#cc2424"/>
<circle cx="356.3" cy="494.2" r="2.0" fill="#cc2424"/>
<circle cx="369.1" cy="493.5" r="2.0" fill="#cc2424"/>
<circle cx="331.4" cy="510.4" r="2.0" fill="#cc2424"/>
<circle cx="360.9" cy="490.7" r="2.0" fill="#1a1aa8"/>
<circle cx="333.7" cy="503.5" r="2.0" fill="#1a1aa8"/>
<circle cx="341.7" cy="503.2" r="2.0" fill="#1a1aa8"/>
<circle cx="360.9" cy="503.5" r="2.0" fill="#1a1aa8"/>
<line x1="330.2" y1="510.8" x2="389.5" y2="472.4" stroke="#111" stroke-width="1.1"/>
<text x="333.0" y="461.6" font-size="8.5" fill="#1a1a1a"><tspan font-style="italic">R</tspan> = 0.75</text>
<text x="359.5" y="445.9" font-size="8.6" fill="#111" text-anchor="middle">CD4.Con.count</text>
<circle cx="420.75" cy="190.8" r="2.6" fill="#1a1aa8"/>
<circle cx="420.75" cy="207.1" r="2.6" fill="#cc2424"/>
<text x="434.3" y="193.9" font-size="8.6" fill="#1a1a1a">0.1 mg/kg</text>
<text x="434.3" y="210.2" font-size="8.6" fill="#1a1a1a">1.0 mg/kg</text>
<circle cx="420.75" cy="462.6" r="2.6" fill="#1a1aa8"/>
<circle cx="420.75" cy="478.9" r="2.6" fill="#cc2424"/>
<text x="434.3" y="465.7" font-size="8.6" fill="#1a1a1a">0.1 mg/kg</text>
<text x="434.3" y="482.0" font-size="8.6" fill="#1a1a1a">1.0 mg/kg</text>
<text x="408.8" y="241.9" font-size="8.5" fill="#1a1a1a">Repertoire parameter</text>
<text x="408.8" y="514.8" font-size="8.5" fill="#1a1a1a">Repertoire parameter</text>
<line x1="45" y1="252.3" x2="495.5" y2="252.3" stroke="#111" stroke-width="1.5"/>
<path d="M500.5,252.3 L494.0,249.5 L494.0,255.10000000000002 Z" fill="#111"/>
<line x1="45" y1="524.3" x2="495.5" y2="524.3" stroke="#111" stroke-width="1.5"/>
<path d="M500.5,524.3 L494.0,521.5 L494.0,527.0999999999999 Z" fill="#111"/>
<line x1="35.2" y1="240.5" x2="35.2" y2="183.0" stroke="#111" stroke-width="1.2"/>
<path d="M35.2,178.0 L32.300000000000004,184.0 L38.1,184.0 Z" fill="#111"/>
<line x1="35.2" y1="511.8" x2="35.2" y2="453.4" stroke="#111" stroke-width="1.2"/>
<path d="M35.2,448.4 L32.300000000000004,454.4 L38.1,454.4 Z" fill="#111"/>
<text transform="translate(20.6,213.4) rotate(-90)" x="0" y="0" font-size="8.6" text-anchor="middle" fill="#1a1a1a">Fold change of CD8<tspan font-size="0.6em" dy="-0.5em">+</tspan></text>
<text transform="translate(30.0,217.0) rotate(-90)" x="0" y="0" font-size="8.1" text-anchor="middle" fill="#1a1a1a">count on day 29</text>
<text transform="translate(20.0,483.7) rotate(-90)" x="0" y="0" font-size="8.4" text-anchor="middle" fill="#1a1a1a">Change in CD8<tspan font-size="0.6em" dy="-0.5em">+</tspan><tspan dy="0.3em"> </tspan>EF</text>
<text transform="translate(30.2,485.3) rotate(-90)" x="0" y="0" font-size="8.7" text-anchor="middle" fill="#1a1a1a">on day 29 (%)</text>
<text x="0.5" y="12.4" font-size="14.8" fill="#000" font-weight="bold">A</text>
<text x="0.5" y="171.4" font-size="14.8" fill="#000" font-weight="bold">B</text>
<text x="0.5" y="278.4" font-size="14.8" fill="#000" font-weight="bold">C</text>
<text x="0.5" y="442.9" font-size="14.8" fill="#000" font-weight="bold">D</text>
<text x="0.5" y="547.1" font-size="14.8" fill="#000" font-weight="bold">E</text>
<text x="75.0" y="548.4" font-size="10.75" fill="#1a1a1a">Remodeling of TCR repertoire</text>
<path d="M55,585.4 L82,585.4 C82.05,587.07 82.00,591.18 82.3,595.4 C82.60,599.62 83.17,605.58 83.8,610.7 C84.43,615.82 85.20,620.98 86.1,626.1 C87.00,631.22 87.78,636.28 89.2,641.4 C90.62,646.52 92.68,652.18 94.6,656.8 C96.52,661.42 98.80,665.63 100.7,669.1 C102.60,672.57 104.45,675.58 106.0,677.6 C107.55,679.62 108.45,680.43 110,681.2 C111.55,681.97 113.53,682.13 115.3,682.2 C117.07,682.27 117.95,682.15 120.6,681.6 C123.25,681.05 127.68,680.23 131.2,678.9 C134.72,677.57 138.18,675.72 141.7,673.6 C145.22,671.48 149.25,668.40 152.3,666.2 C155.35,664.00 157.43,662.40 160,660.4 C162.57,658.40 165.13,656.32 167.7,654.2 C170.27,652.08 172.83,650.00 175.4,647.7 C177.97,645.40 180.53,642.95 183.1,640.4 C185.67,637.85 188.23,635.30 190.8,632.4 C193.37,629.50 195.97,626.13 198.5,623.0 C201.03,619.87 203.57,616.80 206,613.6 C208.43,610.40 210.00,608.23 213.1,603.8 C216.20,599.37 221.22,592.50 224.6,587.0 C227.98,581.50 231.93,573.50 233.4,570.8 L233.4,689.5 L55,689.5 Z" fill="#f7931e" stroke="#3a2810" stroke-width="0.85"/>
<path d="M55,591.8 L81.6,591.8 C81.65,592.83 81.63,594.77 81.9,598 C82.17,601.23 82.60,606.43 83.2,611.2 C83.80,615.97 84.60,621.48 85.5,626.6 C86.40,631.72 87.18,636.77 88.6,641.9 C90.02,647.03 92.07,652.72 94.0,657.4 C95.93,662.08 98.27,666.40 100.2,670.0 C102.13,673.60 103.97,676.73 105.6,679.0 C107.23,681.27 108.38,682.67 110,683.6 C111.62,684.53 113.53,684.43 115.3,684.6 C117.07,684.77 117.95,684.77 120.6,684.6 C123.25,684.43 127.68,684.03 131.2,683.6 C134.72,683.17 138.18,682.70 141.7,682 C145.22,681.30 148.77,680.28 152.3,679.4 C155.83,678.52 159.12,677.68 162.9,676.7 C166.68,675.72 171.12,674.68 175,673.5 C178.88,672.32 182.03,671.22 186.2,669.6 C190.37,667.98 196.48,665.40 200,663.8 C203.52,662.20 205.12,661.22 207.3,660 C209.48,658.78 210.22,658.42 213.1,656.5 C215.98,654.58 221.22,651.42 224.6,648.5 C227.98,645.58 231.93,640.58 233.4,639 L233.4,689.5 L55,689.5 Z" fill="#1ef2f4" stroke="#1e4a4a" stroke-width="0.6"/>
<line x1="82" y1="585.3" x2="231" y2="585.3" stroke="#999" stroke-width="0.7" stroke-dasharray="3,2.2"/>
<line x1="55" y1="689.6" x2="262.5" y2="689.6" stroke="#111" stroke-width="1.3"/>
<path d="M270.5,689.6 L261.3,685.4 L261.3,693.8 Z" fill="#111"/>
<line x1="54.8" y1="689.6" x2="54.8" y2="566.5" stroke="#111" stroke-width="1.3"/>
<path d="M54.8,560 L51.3,567 L58.3,567 Z" fill="#111"/>
<path d="M76.2,570.8 L86.3,570.8 L81.3,584.3 Z" fill="#8a8a8a"/>
<text x="63.7" y="568.2" font-size="8.6" fill="#1a1a1a">aCD4 Ab</text>
<text x="8.7" y="581.3" font-size="8.4" fill="#1a1a1a">Circulating</text>
<text x="8.7" y="590.6" font-size="8.4" fill="#1a1a1a">T-cell pool</text>
<line x1="115" y1="590" x2="115" y2="673.5" stroke="#111" stroke-width="0.9"/>
<path d="M115,585.3 L112.4,590.2 L117.6,590.2 Z" fill="#111"/>
<path d="M115,678.4 L112.4,673.5 L117.6,673.5 Z" fill="#111"/>
<text x="120.8" y="614.4" font-size="8.6" fill="#1a1a1a">Space for</text>
<text x="120.8" y="624.5" font-size="8.6" fill="#1a1a1a">clonal</text>
<text x="120.8" y="634.6" font-size="8.6" fill="#1a1a1a">expansion</text>
<text x="252.3" y="596.9" font-size="8.6" fill="#1a1a1a">Newly</text>
<text x="252.3" y="607.1" font-size="8.6" fill="#1a1a1a">expanded</text>
<text x="252.3" y="616.6" font-size="8.6" fill="#1a1a1a">clones</text>
<line x1="216.9" y1="623.4" x2="246.8" y2="597.2" stroke="#222" stroke-width="0.8"/>
<text x="8.7" y="702.4" font-size="8.6" fill="#1a1a1a">Preexpanded</text>
<text x="8.7" y="712.4" font-size="8.6" fill="#1a1a1a">clones</text>
<line x1="31.3" y1="687.5" x2="60.0" y2="632.5" stroke="#222" stroke-width="0.8"/>
<path d="M80.7,689.6 V693.7 Q80.7,695.4 82.4,695.4 H113.4 Q115.4,695.4 115.6,692.5 Q115.8,695.4 117.8,695.4 H231.6 Q233.4,695.4 233.4,693.6 V689.6" fill="none" stroke="#111" stroke-width="0.8"/>
<line x1="98.1" y1="695.4" x2="98.1" y2="701.8" stroke="#111" stroke-width="0.8"/>
<line x1="175.0" y1="695.4" x2="175.0" y2="701.8" stroke="#111" stroke-width="0.8"/>
<text x="96.4" y="713.6" font-size="8.3" fill="#1a1a1a" text-anchor="middle">Reduction phase</text>
<text x="176.7" y="713.6" font-size="8.3" fill="#1a1a1a" text-anchor="middle">Repopulation phase</text>
<text x="241.3" y="704.3" font-size="8.5" fill="#1a1a1a">Time</text>
</svg>
</body></html>
